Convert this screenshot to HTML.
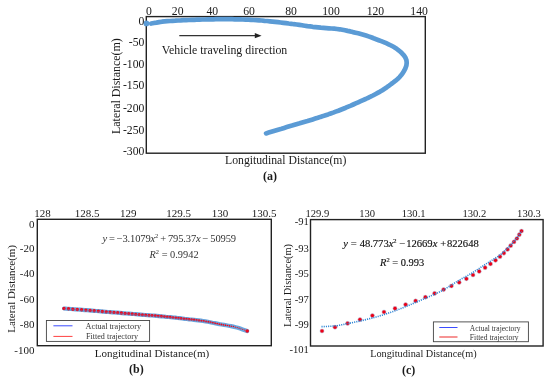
<!DOCTYPE html>
<html><head><meta charset="utf-8"><title>Figure</title>
<style>
html,body{margin:0;padding:0;background:#fff}
svg{display:block}
text{font-family:"Liberation Serif",serif;fill:#1a1a1a}
.t{font-size:11.7px}
.u{font-size:11px}
.b{font-weight:bold;font-size:12px}
.i{font-style:italic}
.l{font-size:8.2px;fill:#333}
.e{font-size:10.5px;fill:#333}
.e2{font-size:10.6px;fill:#111;stroke:#111;stroke-width:0.15px}
.u2{font-size:10.6px}
.l2{font-size:7.5px;fill:#333}
</style></head>
<body>
<svg width="550" height="382" viewBox="0 0 550 382">
<rect width="550" height="382" fill="#fff"/>

<g id="pa">
<rect x="146.3" y="16.6" width="279" height="136.6" fill="none" stroke="#222" stroke-width="1.4"/>
<path d="M151.2 23.5 L153.9 23 L156.5 22.6 L159.2 22.1 L161.9 21.7 L164.6 21.4 L167.2 21.2 L169.9 21 L172.6 20.8 L175.3 20.7 L178 20.5 L180.7 20.4 L183.4 20.2 L186.1 20.1 L188.8 20 L191.5 19.9 L194.2 19.8 L196.9 19.7 L199.6 19.6 L202.3 19.5 L205 19.5 L207.8 19.4 L210.5 19.3 L213.2 19.3 L215.9 19.2 L218.6 19.2 L221.3 19.2 L224 19.2 L226.7 19.2 L229.4 19.2 L232.1 19.2 L234.8 19.3 L237.5 19.3 L240.2 19.4 L242.9 19.5 L245.6 19.6 L248.3 19.7 L251 19.8 L253.7 20 L256.4 20.1 L259.1 20.3 L261.8 20.5 L264.5 20.8 L267.2 21 L269.9 21.3 L272.5 21.6 L275.2 21.9 L277.9 22.2 L280.6 22.5 L283.3 22.8 L286 23.1 L288.7 23.5 L291.3 23.8 L294 24.2 L296.7 24.5 L299.4 24.9 L302 25.3 L304.7 25.7 L307.4 26.1 L310.1 26.4 L312.7 26.8 L315.4 27.1 L318.1 27.4 L320.8 27.7 L323.5 27.9 L326.2 28.1 L328.9 28.3 L331.6 28.5 L334.3 28.7 L337 29 L339.7 29.3 L342.3 29.8 L345 30.3 L347.6 30.9 L350.3 31.4 L352.9 32.1 L355.5 32.7 L358.2 33.3 L360.8 34 L363.4 34.7 L366 35.5 L368.5 36.4 L371.1 37.3 L373.6 38.3 L376.1 39.2 L378.7 40.2 L381.2 41.1 L383.7 42.1 L386.2 43.2 L388.6 44.3 L391.1 45.5 L393.5 46.8 L395.8 48.2 L398 49.8 L400.1 51.5 L402 53.3 L403.9 55.4 L405.4 57.6 L406.4 60.1 L406.7 62.8 L406.4 65.5 L405.5 68.1 L404.3 70.5 L402.9 72.9 L401.3 75.1 L399.6 77.1 L397.6 79 L395.6 80.7 L393.4 82.4 L391.2 84 L389.1 85.6 L386.9 87.2 L384.6 88.7 L382.4 90.2 L380.1 91.6 L377.7 92.9 L375.3 94.2 L372.9 95.5 L370.5 96.7 L368.1 97.8 L365.6 99 L363.1 100.1 L360.7 101.2 L358.2 102.3 L355.7 103.4 L353.3 104.5 L350.8 105.6 L348.3 106.6 L345.8 107.7 L343.3 108.7 L340.8 109.7 L338.3 110.7 L335.7 111.6 L333.2 112.6 L330.7 113.5 L328.1 114.4 L325.6 115.2 L323 116.1 L320.4 116.9 L317.9 117.8 L315.3 118.6 L312.7 119.4 L310.1 120.2 L307.5 121 L304.9 121.7 L302.3 122.5 L299.7 123.3 L297.2 124 L294.6 124.8 L292 125.6 L289.4 126.3 L286.8 127.1 L284.2 127.9 L281.6 128.7 L279 129.4 L276.4 130.2 L273.9 131 L271.3 131.8 L268.7 132.6 L266.1 133.4" fill="none" stroke="#5B9BD5" stroke-width="4.7" stroke-linecap="round" stroke-linejoin="round"/>
<circle cx="146.4" cy="23.4" r="2.9" fill="#5B9BD5"/>
<g class="t" text-anchor="middle">
<text x="148.9" y="14.6">0</text>
<text x="177.7" y="14.6">20</text>
<text x="212.3" y="14.6">40</text>
<text x="249" y="14.6">60</text>
<text x="291" y="14.6">80</text>
<text x="331" y="14.6">100</text>
<text x="375.4" y="14.6">120</text>
<text x="419.1" y="14.6">140</text>
</g><g class="t" text-anchor="end">
<text x="144.4" y="24.8">0</text>
<text x="144.4" y="46.2">-50</text>
<text x="144.4" y="67.8">-100</text>
<text x="144.4" y="89.2">-150</text>
<text x="144.4" y="111.5">-200</text>
<text x="144.4" y="133.5">-250</text>
<text x="144.4" y="155.1">-300</text>
</g>
<text class="t" x="225" y="163.6" textLength="121.4" lengthAdjust="spacingAndGlyphs">Longitudinal Distance(m)</text>
<text transform="translate(119.6,134) rotate(-90)" style="font-size:11.9px" textLength="95.7" lengthAdjust="spacingAndGlyphs">Lateral Distance(m)</text>
<text class="b" x="270" y="180" text-anchor="middle">(a)</text>
<line x1="179.3" y1="35.7" x2="256" y2="35.7" stroke="#333" stroke-width="1.3"/>
<path d="M261.6 35.7 L254.8 33.1 L254.8 38.3 Z" fill="#222"/>
<text x="161.8" y="53.6" style="font-size:11.85px" textLength="125.5" lengthAdjust="spacingAndGlyphs">Vehicle traveling direction</text>
</g>
<g id="pb">
<rect x="37.3" y="219.3" width="234" height="126.4" fill="none" stroke="#222" stroke-width="1.4"/>
<path d="M64 308.5 L66.3 308.7 L68.6 308.8 L71 309 L73.3 309.2 L75.6 309.3 L77.9 309.5 L80.2 309.7 L82.6 309.9 L84.9 310.1 L87.2 310.2 L89.5 310.4 L91.8 310.6 L94.1 310.8 L96.5 311 L98.8 311.2 L101.1 311.4 L103.4 311.6 L105.7 311.8 L108.1 312 L110.4 312.1 L112.7 312.3 L115 312.5 L117.3 312.7 L119.7 312.9 L122 313.1 L124.3 313.3 L126.6 313.5 L128.9 313.6 L131.3 313.8 L133.6 314 L135.9 314.2 L138.2 314.4 L140.5 314.6 L142.8 314.8 L145.2 315 L147.5 315.1 L149.8 315.3 L152.1 315.5 L154.4 315.7 L156.8 315.9 L159.1 316.1 L161.4 316.3 L163.7 316.5 L166 316.8 L168.4 317 L170.7 317.2 L173 317.5 L175.3 317.7 L177.6 318 L179.9 318.2 L182.3 318.5 L184.6 318.8 L186.9 319 L189.2 319.3 L191.5 319.5 L193.9 319.8 L196.2 320.1 L198.5 320.4 L200.8 320.7 L203.1 321 L205.5 321.4 L207.8 321.8 L210.1 322.2 L212.4 322.7 L214.7 323.1 L217.1 323.6 L219.4 324.1 L221.7 324.5 L224 324.9 L226.3 325.3 L228.6 325.7 L231 326.1 L233.3 326.6 L235.6 327.2 L237.9 327.8 L240.2 328.6 L242.6 329.4 L244.9 330.2 L247.2 331" fill="none" stroke="#69A6DE" stroke-width="4.2" stroke-linecap="round" stroke-linejoin="round"/>
<g fill="#EE0A1E">
<circle cx="64.0" cy="308.5" r="1.70"/>
<circle cx="68.5" cy="308.8" r="1.70"/>
<circle cx="72.9" cy="309.2" r="1.70"/>
<circle cx="77.3" cy="309.5" r="1.70"/>
<circle cx="81.6" cy="309.8" r="1.69"/>
<circle cx="85.9" cy="310.1" r="1.69"/>
<circle cx="90.1" cy="310.5" r="1.68"/>
<circle cx="94.2" cy="310.8" r="1.68"/>
<circle cx="98.3" cy="311.1" r="1.67"/>
<circle cx="102.3" cy="311.5" r="1.67"/>
<circle cx="106.2" cy="311.8" r="1.66"/>
<circle cx="110.1" cy="312.1" r="1.65"/>
<circle cx="114.0" cy="312.4" r="1.65"/>
<circle cx="117.7" cy="312.7" r="1.64"/>
<circle cx="121.4" cy="313.0" r="1.63"/>
<circle cx="125.1" cy="313.3" r="1.62"/>
<circle cx="128.7" cy="313.6" r="1.60"/>
<circle cx="132.2" cy="313.9" r="1.59"/>
<circle cx="135.7" cy="314.2" r="1.57"/>
<circle cx="139.1" cy="314.5" r="1.56"/>
<circle cx="142.4" cy="314.7" r="1.54"/>
<circle cx="145.7" cy="315.0" r="1.53"/>
<circle cx="149.0" cy="315.3" r="1.51"/>
<circle cx="152.1" cy="315.5" r="1.49"/>
<circle cx="155.3" cy="315.8" r="1.48"/>
<circle cx="158.3" cy="316.1" r="1.46"/>
<circle cx="161.4" cy="316.3" r="1.44"/>
<circle cx="164.4" cy="316.6" r="1.43"/>
<circle cx="167.3" cy="316.9" r="1.41"/>
<circle cx="170.2" cy="317.2" r="1.39"/>
<circle cx="173.0" cy="317.5" r="1.37"/>
<circle cx="175.8" cy="317.8" r="1.35"/>
<circle cx="178.5" cy="318.1" r="1.33"/>
<circle cx="181.2" cy="318.4" r="1.31"/>
<circle cx="183.9" cy="318.7" r="1.29"/>
<circle cx="186.5" cy="319.0" r="1.27"/>
<circle cx="189.1" cy="319.3" r="1.25"/>
<circle cx="191.6" cy="319.6" r="1.23"/>
<circle cx="194.1" cy="319.8" r="1.20"/>
<circle cx="196.6" cy="320.1" r="1.18"/>
<circle cx="199.0" cy="320.5" r="1.16"/>
<circle cx="201.4" cy="320.8" r="1.14"/>
<circle cx="203.8" cy="321.1" r="1.11"/>
<circle cx="206.1" cy="321.5" r="1.09"/>
<circle cx="208.4" cy="321.9" r="1.07"/>
<circle cx="210.6" cy="322.3" r="1.04"/>
<circle cx="212.8" cy="322.7" r="1.01"/>
<circle cx="215.0" cy="323.2" r="0.99"/>
<circle cx="217.2" cy="323.6" r="0.96"/>
<circle cx="219.3" cy="324.1" r="0.93"/>
<circle cx="221.4" cy="324.5" r="0.91"/>
<circle cx="223.4" cy="324.8" r="0.88"/>
<circle cx="225.5" cy="325.2" r="0.85"/>
<circle cx="227.5" cy="325.5" r="0.82"/>
<circle cx="229.5" cy="325.9" r="0.79"/>
<circle cx="231.4" cy="326.2" r="0.76"/>
<circle cx="233.4" cy="326.6" r="0.73"/>
<circle cx="235.3" cy="327.1" r="0.70"/>
<circle cx="237.2" cy="327.6" r="0.66"/>
<circle cx="239.1" cy="328.2" r="0.63"/>
<circle cx="240.9" cy="328.8" r="0.59"/>
<circle cx="242.8" cy="329.4" r="0.55"/>
<circle cx="244.6" cy="330.1" r="0.51"/>
<circle cx="247.2" cy="331" r="1.8"/>
</g>
<path d="M64 309 L67.1 309.2 L70.2 309.4 L73.2 309.7 L76.3 309.9 L79.4 310.1 L82.5 310.4 L85.6 310.6 L88.7 310.9 L91.7 311.1 L94.8 311.3 L97.9 311.6 L101 311.9 L104.1 312.1 L107.1 312.4 L110.2 312.6 L113.3 312.9 L116.4 313.1 L119.5 313.4 L122.6 313.6 L125.6 313.9 L128.7 314.1 L131.8 314.4 L134.9 314.6 L138 314.9 L141 315.1 L144.1 315.4 L147.2 315.6 L150.3 315.9 L153.4 316.1 L156.4 316.4 L159.5 316.7 L162.6 316.9 L165.7 317.2 L168.8 317.5 L171.9 317.9 L174.9 318.2 L178 318.5 L181.1 318.9 L184.2 319.2 L187.3 319.6 L190.3 319.9 L193.4 320.3 L196.5 320.6 L199.6 321 L202.7 321.5 L205.8 321.9 L208.8 322.5 L211.9 323.1 L215 323.7" fill="none" stroke="#4A90D9" stroke-width="0.9" opacity="0.45"/>
<g class="u" text-anchor="middle">
<text x="42.4" y="217.1">128</text>
<text x="87" y="217.1">128.5</text>
<text x="128.3" y="217.1">129</text>
<text x="178.6" y="217.1">129.5</text>
<text x="220.1" y="217.1">130</text>
<text x="264" y="217.1">130.5</text>
</g><g class="u" text-anchor="end">
<text x="34.5" y="228.2">0</text>
<text x="34.5" y="252.1">-20</text>
<text x="34.5" y="276.9">-40</text>
<text x="34.5" y="302.9">-60</text>
<text x="34.5" y="328.1">-80</text>
<text x="34.5" y="354.0">-100</text>
</g>
<text class="u" x="94.7" y="356.5" textLength="114.5" lengthAdjust="spacingAndGlyphs">Longitudinal Distance(m)</text>
<text class="u" transform="translate(14.7,332.7) rotate(-90)" textLength="87.7" lengthAdjust="spacingAndGlyphs">Lateral Distance(m)</text>
<text class="b" x="136.4" y="373.1" text-anchor="middle">(b)</text>
<rect x="46.4" y="320.5" width="103.2" height="20.9" fill="#fff" stroke="#444" stroke-width="0.9"/>
<line x1="53.4" y1="325.8" x2="72.5" y2="325.8" stroke="#3b4cff" stroke-width="1"/>
<line x1="53.4" y1="336.4" x2="72.5" y2="336.4" stroke="#ff4040" stroke-width="1"/>
<text class="l" x="85.6" y="328.6" textLength="55.4" lengthAdjust="spacingAndGlyphs">Actual trajectory</text>
<text class="l" x="86" y="338.6" textLength="52" lengthAdjust="spacingAndGlyphs">Fitted trajectory</text>
<text class="e" x="102.4" y="241.9" textLength="133.6" lengthAdjust="spacing" style="word-spacing:-0.5px"><tspan class="i">y</tspan> = −3.1079<tspan class="i">x</tspan><tspan dy="-4" font-size="6.5">2</tspan><tspan dy="4"> + 795.37</tspan><tspan class="i">x</tspan> − 50959</text>
<text class="e" x="149.5" y="257.8" textLength="49.1" lengthAdjust="spacingAndGlyphs"><tspan class="i">R</tspan><tspan dy="-4" font-size="6.5">2</tspan><tspan dy="4"> = 0.9942</tspan></text>
</g>
<g id="pc">
<rect x="310.5" y="219.6" width="232.6" height="126.4" fill="none" stroke="#222" stroke-width="1.4"/>
<g fill="#EC0016" stroke="#B5D6F2" stroke-width="0.5">
<circle cx="322" cy="331" r="2.1"/>
<circle cx="335" cy="327.2" r="2.1"/>
<circle cx="347.6" cy="323.4" r="2.1"/>
<circle cx="360" cy="319.6" r="2.1"/>
<circle cx="372.4" cy="315.6" r="2.1"/>
<circle cx="384" cy="312" r="2.1"/>
<circle cx="395" cy="308.4" r="2.1"/>
<circle cx="405.6" cy="304.6" r="2.1"/>
<circle cx="415.6" cy="300.9" r="2.1"/>
<circle cx="425.4" cy="297.2" r="2.1"/>
<circle cx="434.6" cy="293.4" r="2.1"/>
<circle cx="443.6" cy="289.6" r="2.1"/>
<circle cx="451.4" cy="286" r="2.1"/>
<circle cx="459.2" cy="282.4" r="2.1"/>
<circle cx="466.4" cy="278.8" r="2.1"/>
<circle cx="473" cy="275" r="2.1"/>
<circle cx="479.2" cy="271.4" r="2.1"/>
<circle cx="485.1" cy="267.7" r="2.1"/>
<circle cx="490.5" cy="263.9" r="2.1"/>
<circle cx="495.5" cy="260.3" r="2.1"/>
<circle cx="500" cy="256.7" r="2.1"/>
<circle cx="503.9" cy="253.1" r="2.1"/>
<circle cx="507.5" cy="249.4" r="2.1"/>
<circle cx="510.7" cy="245.7" r="2.1"/>
<circle cx="514" cy="241.9" r="2.1"/>
<circle cx="516.9" cy="238.5" r="2.1"/>
<circle cx="519.3" cy="234.7" r="2.1"/>
<circle cx="521.5" cy="231.1" r="2.1"/>
</g>
<path d="M321.5 326.6 L323.5 326.6 L325.5 326.5 L327.6 326.4 L329.6 326.3 L331.6 326.2 L333.6 326 L335.6 325.8 L337.7 325.6 L339.7 325.2 L341.7 324.8 L343.7 324.4 L345.7 323.9 L347.8 323.5 L349.8 323.1 L351.8 322.7 L353.8 322.3 L355.8 321.9 L357.9 321.5 L359.9 321 L361.9 320.6 L363.9 320.1 L365.9 319.6 L368 319.1 L370 318.6 L372 318.1 L374 317.6 L376 317 L378.1 316.4 L380.1 315.8 L382.1 315.2 L384.1 314.6 L386.1 313.9 L388.2 313.2 L390.2 312.5 L392.2 311.8 L394.2 311.1 L396.2 310.3 L398.3 309.6 L400.3 308.8 L402.3 308 L404.3 307.2 L406.3 306.3 L408.4 305.5 L410.4 304.7 L412.4 303.8 L414.4 302.9 L416.4 302.1 L418.5 301.2 L420.5 300.4 L422.5 299.5 L424.5 298.7 L426.6 297.8 L428.6 296.9 L430.6 296 L432.6 295.1 L434.6 294.2 L436.7 293.2 L438.7 292.3 L440.7 291.3 L442.7 290.3 L444.7 289.2 L446.8 287.9 L448.8 286.7 L450.8 285.4 L452.8 284.2 L454.8 282.9 L456.9 281.6 L458.9 280.4 L460.9 279.2 L462.9 278.1 L464.9 277 L467 275.9 L469 274.7 L471 273.6 L473 272.4 L475 271.1 L477.1 269.8 L479.1 268.5 L481.1 267.1 L483.1 265.8 L485.1 264.5 L487.2 263.2 L489.2 262 L491.2 260.7 L493.2 259.5 L495.2 258.2 L497.3 256.9 L499.3 255.4 L501.3 253.9 L503.3 252.1 L505.3 250.3 L507.4 248.4 L509.4 246.4 L511.4 244.3 L513.4 242 L515.4 239.8 L517.5 237.3 L519.5 234.3 L521.5 231.1" fill="none" stroke="#2E86D6" stroke-width="1.6" stroke-dasharray="1.1 1.1"/>
<g class="u2" text-anchor="middle">
<text x="317.4" y="217.1">129.9</text>
<text x="367.1" y="217.1">130</text>
<text x="413.7" y="217.1">130.1</text>
<text x="474.4" y="217.1">130.2</text>
<text x="529" y="217.1">130.3</text>
</g><g class="u2" text-anchor="end">
<text x="308.8" y="225.3">-91</text>
<text x="308.8" y="251.9">-93</text>
<text x="308.8" y="277.4">-95</text>
<text x="308.8" y="303.0">-97</text>
<text x="308.8" y="328.1">-99</text>
<text x="308.8" y="352.8">-101</text>
</g>
<text x="370.2" y="356.5" style="font-size:10.3px" textLength="106.4" lengthAdjust="spacingAndGlyphs">Longitudinal Distance(m)</text>
<text transform="translate(291,327.1) rotate(-90)" style="font-size:10.4px" textLength="83.1" lengthAdjust="spacingAndGlyphs">Lateral Distance(m)</text>
<text class="b" x="408.6" y="373.6" text-anchor="middle">(c)</text>
<rect x="433.4" y="321.9" width="95" height="19.8" fill="#fff" stroke="#444" stroke-width="0.9"/>
<line x1="439.3" y1="327.5" x2="457.5" y2="327.5" stroke="#3b4cff" stroke-width="1"/>
<line x1="439.3" y1="337" x2="457.5" y2="337" stroke="#f25a5a" stroke-width="1.3"/>
<text class="l2" x="469.8" y="330.5" textLength="50.7" lengthAdjust="spacingAndGlyphs">Actual trajectory</text>
<text class="l2" x="469.8" y="339.5" textLength="48.8" lengthAdjust="spacingAndGlyphs">Fitted trajectory</text>
<text class="e2" x="343.2" y="247.2" textLength="135.5" lengthAdjust="spacing" style="word-spacing:0.3px"><tspan class="i">y</tspan> = 48.773<tspan class="i">x</tspan><tspan dy="-4" font-size="6.5">2</tspan><tspan dy="4"> − 12669</tspan><tspan class="i">x</tspan> + 822648</text>
<text class="e2" x="380" y="266.3" textLength="44.2" lengthAdjust="spacingAndGlyphs"><tspan class="i">R</tspan><tspan dy="-4" font-size="6.5">2</tspan><tspan dy="4"> = 0.993</tspan></text>
</g>
</svg>
</body></html>
